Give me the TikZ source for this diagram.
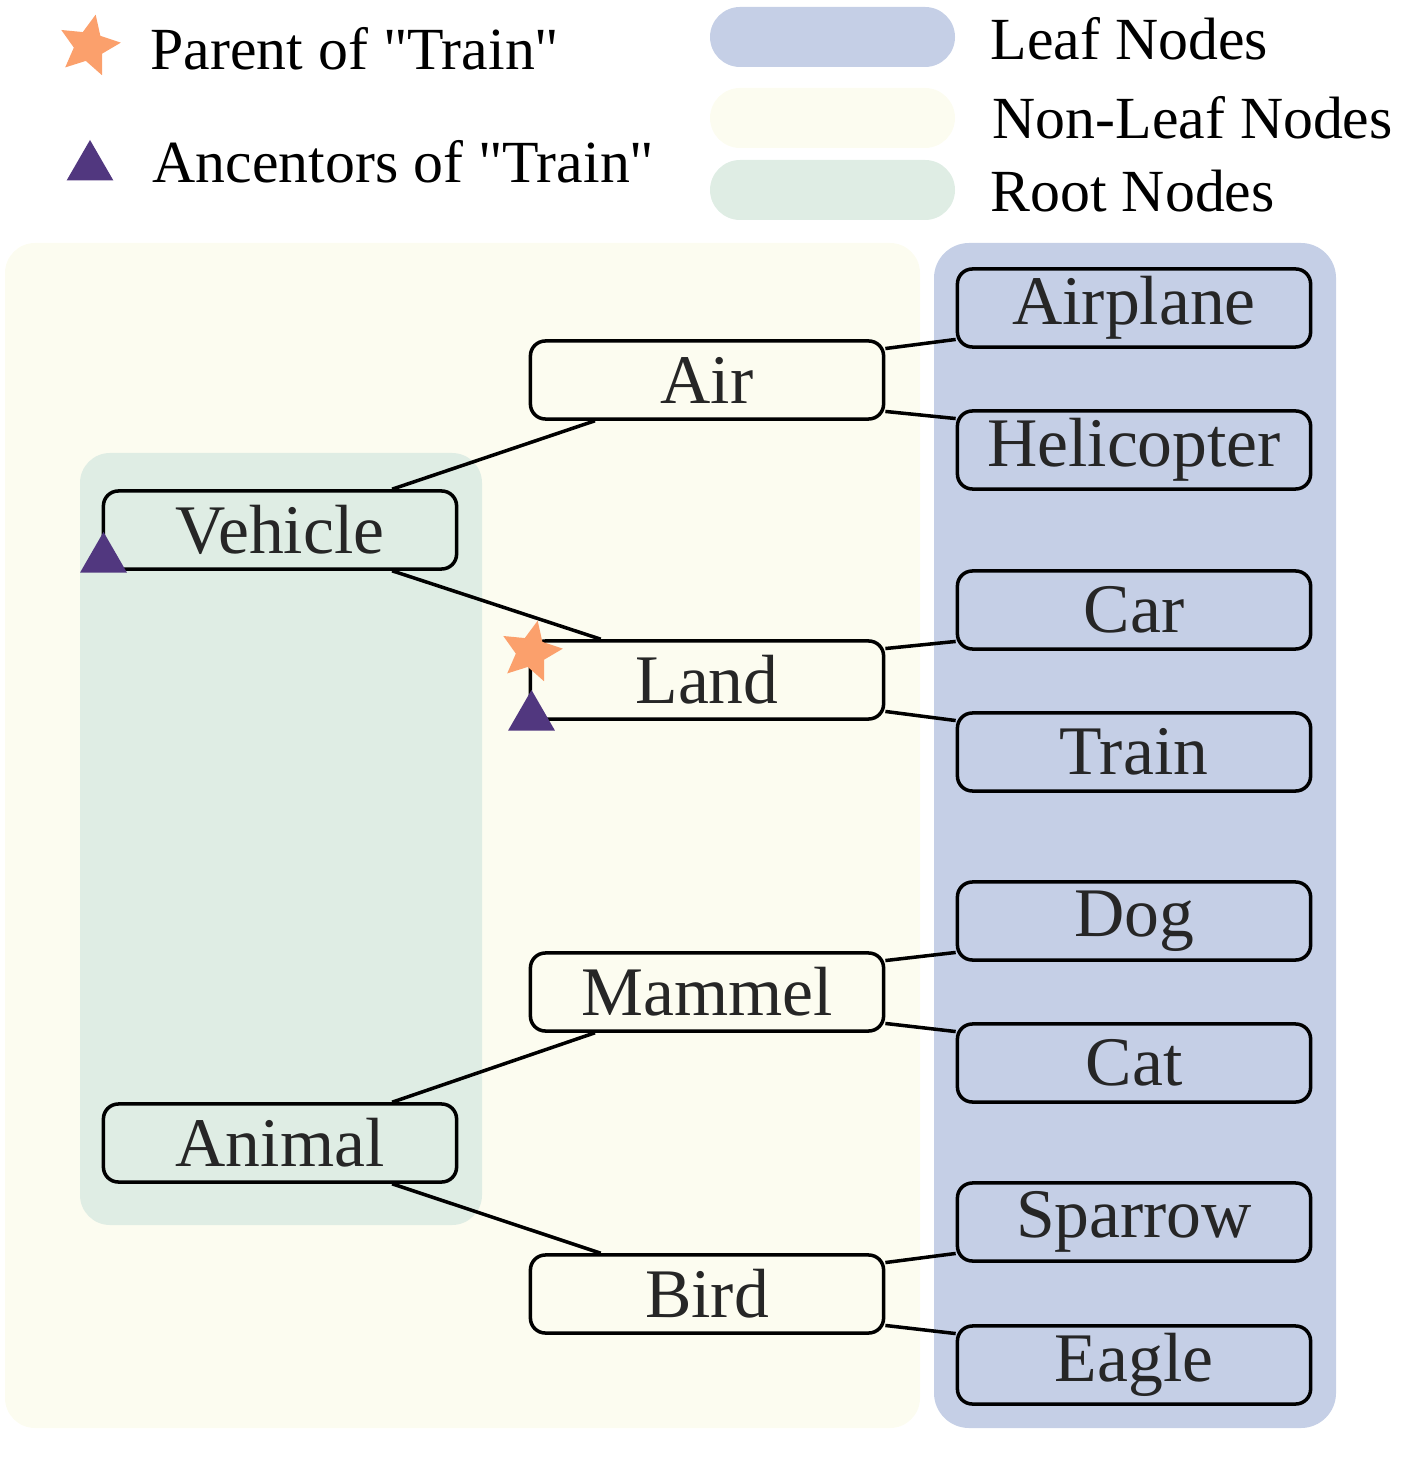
\documentclass[tikz,border=0pt]{standalone}
\usepackage{fontspec}
\setmainfont{Liberation Serif}
\usepackage{xcolor}
\usepackage{tikz}
\usetikzlibrary{shapes.geometric}

\definecolor{leafbg}{HTML}{C5CFE6}
\definecolor{innerbg}{HTML}{FCFCF0}
\definecolor{rootbg}{HTML}{DFEDE4}
\definecolor{parentcol}{HTML}{FBA06C}
\definecolor{ancestcol}{HTML}{51377F}
\definecolor{labelgray}{HTML}{262626}

\tikzset{
  tnode/.style={draw=black,line width=1pt,rounded corners=0.15cm,minimum width=3.53cm,minimum height=0.78cm,inner sep=0pt,text=labelgray,font=\fontsize{19.8}{24}\selectfont},
  link/.style={line width=1pt},
  legtext/.style={anchor=base west,inner sep=0pt,font=\fontsize{17}{20}\selectfont},
  swatch/.style={rounded corners=0.3cm},
  parentmark/.style={star,star points=5,star point ratio=2.1,fill=parentcol,minimum size=0.64cm,inner sep=0pt,rotate=-12},
  ancestmark/.style={regular polygon,regular polygon sides=3,fill=ancestcol,minimum size=0.54cm,inner sep=0pt},
}

\begin{document}
\begin{tikzpicture}[x=0.01cm,y=-0.01cm]
\useasboundingbox (0,0) rectangle (1408,1480);

% Legend
\node[parentmark] (legstar) at (89,46) {};
\node[legtext] (legparent) at (150,70) {Parent of \textquotedbl Train\textquotedbl};
\node[ancestmark] (legtri) at (90,167) {};
\node[legtext] (legancest) at (152,183) {Ancentors of \textquotedbl Train\textquotedbl};

\fill[leafbg,swatch] (710,7) rectangle (955,67);
\fill[innerbg,swatch] (710,88) rectangle (955,148);
\fill[rootbg,swatch] (710,160) rectangle (955,220);
\node[legtext] (legleaf) at (990,60) {Leaf Nodes};
\node[legtext] (leginner) at (992,139) {Non-Leaf Nodes};
\node[legtext] (legroot) at (990,212) {Root Nodes};

% Background regions
\fill[innerbg,rounded corners=0.3cm] (5,243) rectangle (920,1428);
\fill[rootbg,rounded corners=0.3cm] (80,453) rectangle (482,1225);
\fill[leafbg,rounded corners=0.35cm] (934,243) rectangle (1336,1428);

% Root nodes
\node[tnode] (vehicle) at (280,530) {Vehicle};
\node[tnode] (animal) at (280,1143) {Animal};

% Non-leaf nodes
\node[tnode] (air) at (707,380) {Air};
\node[tnode] (land) at (707,680) {Land};
\node[tnode] (mammel) at (707,992) {Mammel};
\node[tnode] (bird) at (707,1294) {Bird};

% Leaf nodes
\node[tnode] (airplane) at (1134,308) {Airplane};
\node[tnode] (helicopter) at (1134,450) {Helicopter};
\node[tnode] (car) at (1134,610) {Car};
\node[tnode] (train) at (1134,752) {Train};
\node[tnode] (dog) at (1134,921) {Dog};
\node[tnode] (cat) at (1134,1063) {Cat};
\node[tnode] (sparrow) at (1134,1222) {Sparrow};
\node[tnode] (eagle) at (1134,1365) {Eagle};

% Edges root -> non-leaf
\draw[link] (vehicle.20.5) -- (air.200.5);
\draw[link] (vehicle.-20.5) -- (land.159.5);
\draw[link] (animal.20.5) -- (mammel.200.5);
\draw[link] (animal.-20.5) -- (bird.159.5);

% Edges non-leaf -> leaf
\draw[link] (air.10) -- (airplane.190);
\draw[link] (air.-10) -- (helicopter.170);
\draw[link] (land.10) -- (car.190);
\draw[link] (land.-10) -- (train.170);
\draw[link] (mammel.10) -- (dog.190);
\draw[link] (mammel.-10) -- (cat.170);
\draw[link] (bird.10) -- (sparrow.190);
\draw[link] (bird.-10) -- (eagle.170);

% Markers for "Train"
\node[ancestmark] (vehtri) at (103.5,559) {};
\node[parentmark] (landstar) at (531,652) {};
\node[ancestmark] (landtri) at (531.5,717) {};
\end{tikzpicture}
\end{document}
